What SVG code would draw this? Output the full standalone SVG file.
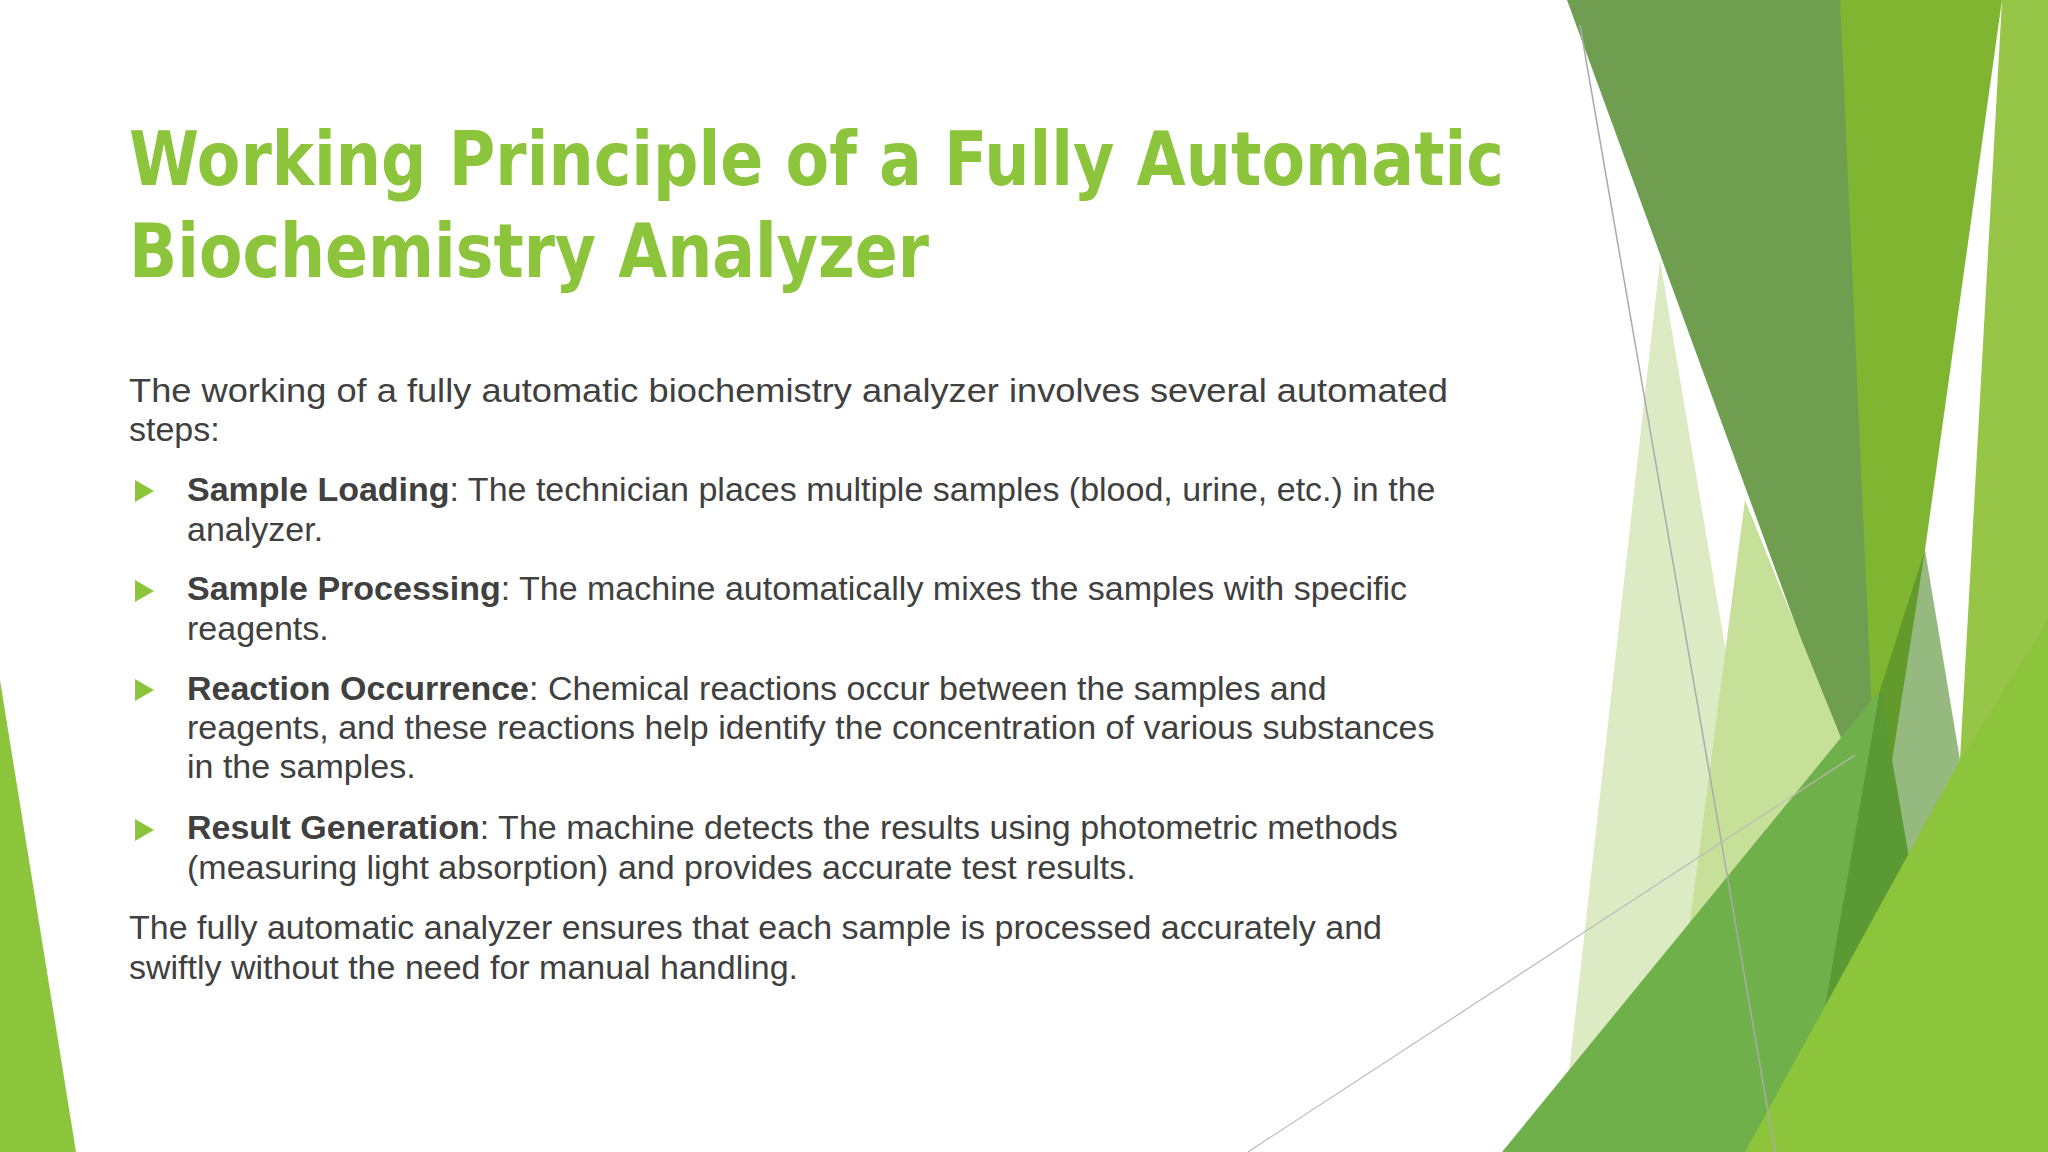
<svg xmlns="http://www.w3.org/2000/svg" width="2048" height="1152" viewBox="0 0 2048 1152">
<style>
.t{font-family:"DejaVu Sans","Liberation Sans",sans-serif;font-weight:bold;font-size:74px;fill:#8cc43c}
.b{font-family:"Liberation Sans",Arial,sans-serif;font-size:34px;fill:#404040}
.bb{font-weight:bold}
.m{fill:#8cc43c}
</style>
<rect width="2048" height="1152" fill="#fff"/>
<g id="decor">
<polygon points="0,680 0,1152 76,1152" fill="#8cc43c"/>
<polygon points="1567,0 1850,0 1878,850" fill="#6f9e50"/>
<polygon points="1840,0 2002,0 1925,550 1878,850" fill="#7fb531"/>
<polygon points="1660,260 1810,1152 1560,1152" fill="#dcebc4"/>
<polygon points="1745,500 1850,760 1780,1152 1660,1152" fill="#c6e09a"/>
<polygon points="1502,1152 1880,690 1960,1152" fill="#6fb04a"/>
<polygon points="1880,690 1925,550 1960,760 1870,1152 1800,1152" fill="#4f8a28" opacity="0.6"/>
<polygon points="2002,0 2048,0 2048,1152 1960,1152 1960,760" fill="#97c548"/>
<polygon points="1960,760 2048,620 2048,1152 1745,1152" fill="#8cc43c"/>
<line x1="1580" y1="25" x2="1775" y2="1152" stroke="#aaa" stroke-width="1.5"/>
<line x1="1248" y1="1152" x2="1855" y2="755" stroke="#bbb" stroke-width="1.2"/>
</g>
<g id="title">
<text class="t" x="129" y="185" textLength="1375" lengthAdjust="spacingAndGlyphs">Working Principle of a Fully Automatic</text>
<text class="t" x="129" y="277" textLength="800" lengthAdjust="spacingAndGlyphs">Biochemistry Analyzer</text>
</g>
<g id="body">
<text class="b" x="129" y="402" textLength="1319" lengthAdjust="spacingAndGlyphs">The working of a fully automatic biochemistry analyzer involves several automated</text>
<text class="b" x="129" y="441">steps:</text>
<polygon class="m" points="135,480 154,491 135,502"/>
<text class="b" x="187" y="501"><tspan class="bb">Sample Loading</tspan>: The technician places multiple samples (blood, urine, etc.) in the</text>
<text class="b" x="187" y="541">analyzer.</text>
<polygon class="m" points="135,580 154,591 135,602"/>
<text class="b" x="187" y="600"><tspan class="bb">Sample Processing</tspan>: The machine automatically mixes the samples with specific</text>
<text class="b" x="187" y="640">reagents.</text>
<polygon class="m" points="135,679 154,690 135,701"/>
<text class="b" x="187" y="700"><tspan class="bb">Reaction Occurrence</tspan>: Chemical reactions occur between the samples and</text>
<text class="b" x="187" y="739">reagents, and these reactions help identify the concentration of various substances</text>
<text class="b" x="187" y="778">in the samples.</text>
<polygon class="m" points="135,819 154,830 135,841"/>
<text class="b" x="187" y="839"><tspan class="bb">Result Generation</tspan>: The machine detects the results using photometric methods</text>
<text class="b" x="187" y="879">(measuring light absorption) and provides accurate test results.</text>
<text class="b" x="129" y="939">The fully automatic analyzer ensures that each sample is processed accurately and</text>
<text class="b" x="129" y="979">swiftly without the need for manual handling.</text>
</g>
</svg>
